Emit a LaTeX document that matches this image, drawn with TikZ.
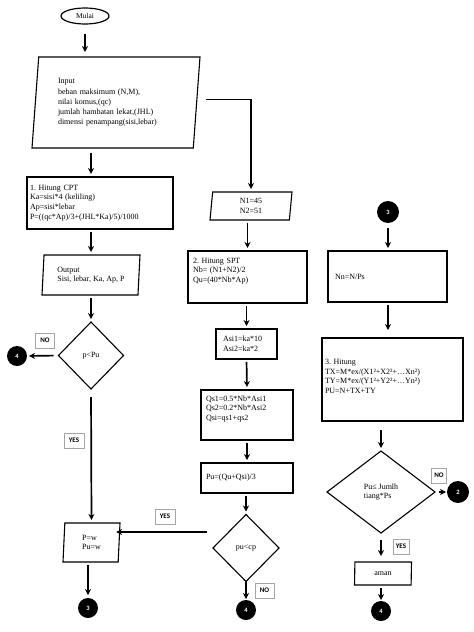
\documentclass[tikz,border=0pt]{standalone}
\usepackage{fontspec}
\setmainfont{Liberation Serif}
\newfontfamily\fclabelfont{Carlito}
\usepackage{tikz}
\usetikzlibrary{arrows.meta,shapes.geometric,positioning,calc}
\frenchspacing
\newcommand{\fcfont}{\fontsize{8}{9.6}\selectfont}
\newcommand{\fclift}[1]{\rule[-#1]{0pt}{0pt}}
\tikzset{
  fcterm/.style={
    ellipse, draw=black, fill=white, line width=1.2pt,
    minimum width=48pt, minimum height=16pt, inner sep=0pt,
    font=\fontsize{7.5}{9}\selectfont
  },
  fcio/.style={
    trapezium, trapezium left angle=82, trapezium right angle=98,
    trapezium stretches body, draw=black, fill=white, line width=1.1pt,
    inner sep=0pt, outer sep=0pt, align=left, font=\fcfont
  },
  fcproc/.style={
    rectangle, draw=black, fill=white, line width=1.1pt,
    inner xsep=5pt, inner ysep=0pt, outer sep=0pt, align=left, font=\fcfont
  },
  fcdec/.style={
    diamond, draw=black, fill=white, line width=1.1pt,
    inner sep=0pt, outer sep=0pt, align=left, font=\fcfont
  },
  fcconn/.style={
    circle, fill=black, minimum size=20pt, inner sep=0pt, outer sep=0pt,
    text=white, font=\fclabelfont\bfseries\fontsize{6.5}{7}\selectfont
  },
  fcedge/.style={-{Stealth[length=6pt,width=6pt]},line width=1.7pt,shorten >=3pt,shorten <=3pt},
  fclabel/.style={
    draw=gray!70, fill=white, line width=0.6pt, minimum height=15pt,
    inner xsep=5pt, inner ysep=1pt, font=\fclabelfont\bfseries\fontsize{7}{8}\selectfont
  }
}

\begin{document}
\begin{tikzpicture}[x=1pt,y=-1pt]
\useasboundingbox (0,0) rectangle (474,632);
% left column
\node[fcterm] (mulai) at (85,16) {Mulai};
\node[fcio,minimum width=168pt,minimum height=91pt,text width=116pt,font=\fontsize{8}{10.2}\selectfont] (inp) at (116,102.5)
  {Input\\beban maksimum (N,M),\\nilai komus,(qc)\\jumlah hambatan lekat,(JHL)\\dimensi penampang(sisi,lebar)};
\node[fcproc,minimum width=146pt,minimum height=52pt,text width=140pt,inner xsep=3pt] (cpt) at (100,203)
  {1. Hitung CPT\\Ka=sisi*4 (keliling)\\Ap=sisi*lebar\\P=((qc*Ap)/3+(JHL*Ka)/5)/1000};
\node[fcio,trapezium left angle=83,trapezium right angle=97,minimum width=98pt,minimum height=40pt] (outp) at (91,275)
  {Output\\Sisi, lebar, Ka, Ap, P};
\node[fcdec,minimum width=65pt,minimum height=67pt] (dia1) at (91,355.5) {p<Pu};
\node[fcconn] (c4a) at (17,356) {4};
\node[fcio,trapezium left angle=83,trapezium right angle=97,minimum width=57pt,minimum height=39pt] (pw) at (91.5,542.5)
  {P=w\\Pu=w};
\node[fcconn] (c3a) at (88,608) {3};

% middle column
\node[fcio,trapezium left angle=80,trapezium right angle=100,minimum width=82pt,minimum height=28pt] (n12) at (251,206)
  {N1=45\\N2=51};
\node[fcproc,minimum width=119pt,minimum height=52pt,text width=109pt] (spt) at (247.5,277)
  {2. Hitung SPT\\Nb= (N1+N2)/2\\Qu=(40*Nb*Ap)\fclift{14pt}};
\node[fcproc,minimum width=61pt,minimum height=30pt,text width=47pt,inner xsep=7pt] (asi) at (246.5,344)
  {Asi1=ka*10\\Asi2=ka*2};
\node[fcproc,minimum width=92pt,minimum height=50pt,text width=82pt] (qs) at (247,415)
  {Qs1=0.5*Nb*Asi1\\Qs2=0.2*Nb*Asi2\\Qsi=qs1+qs2\fclift{14pt}};
\node[fcproc,minimum width=92pt,minimum height=30pt,text width=82pt] (pub) at (247,478) {Pu=(Qu+Qsi)/3};
\node[fcdec,minimum width=66pt,minimum height=67pt] (pucp) at (246,548) {pu<cp};
\node[fcconn] (c4b) at (246,610) {4};

% right column
\node[fcconn,minimum size=22pt] (c3b) at (388,212) {3};
\node[fcproc,minimum width=119pt,minimum height=51pt,text width=105pt,inner xsep=7pt] (nn) at (387.5,276.5) {Nn=N/Ps};
\node[fcproc,minimum width=141pt,minimum height=83pt,text width=135pt,inner xsep=3pt] (h3) at (392.5,379.5)
  {3. Hitung\\TX=M*ex/(X1²+X2²+…Xn²)\\TY=M*ex/(Y1²+Y2²+…Yn²)\\PU=N+TX+TY\fclift{6pt}};
\node[fcdec,minimum width=108pt,minimum height=82pt] (dia3) at (381,492) {Pu≤ Jumlh\\tiang*Ps};
\node[fcconn,minimum size=22pt] (c2) at (458,492) {2};
\node[fcio,trapezium left angle=84,trapezium right angle=96,minimum width=57pt,minimum height=23pt] (aman) at (383,573.5) {aman};
\node[fcconn] (c4c) at (381,611) {4};

% labels
\node[fclabel] (no1) at (45,340.5) {NO};
\node[fclabel] (yes1) at (74,440.5) {YES};
\node[fclabel] (yes2) at (165,516.5) {YES};
\node[fclabel] (no2) at (264.5,590.5) {NO};
\node[fclabel,inner xsep=3pt] (no3) at (439,475.5) {NO};
\node[fclabel,inner xsep=3pt] (yes3) at (401,546.5) {YES};

% connectors
\draw[fcedge,shorten <=9pt,shorten >=5pt] (mulai.south) -- (mulai.south |- inp.north);
\draw[fcedge,shorten <=9pt] ([yshift=3pt]inp.east) -| (n12.north);
\draw[fcedge,shorten <=5pt] (inp.south -| outp.north) -- (cpt.north -| outp.north);
\draw[fcedge] (cpt.south -| outp.north) -- (outp.north);
\draw[fcedge] (outp.south) -- (dia1.north);
\draw[fcedge,shorten <=5pt,shorten >=2pt] (dia1.west) -- (c4a.east);
\draw[fcedge,shorten <=8pt] (dia1.south) -- (pw.north);
\draw[fcedge] (pw.south -| c3a.north) -- (c3a.north);
\draw[fcedge] (n12.south -| spt.north) -- (spt.north);
\draw[fcedge] (spt.south -| asi.north) -- (asi.north);
\draw[fcedge] (asi.south) -- (qs.north);
\draw[fcedge] (qs.south) -- (pub.north);
\draw[fcedge] (pub.south -| pucp.north) -- (pucp.north);
\draw[fcedge,shorten <=0pt,shorten >=1pt] (pucp.south) -- (c4b.north);
\draw[fcedge,shorten <=0pt] ([xshift=-6pt,yshift=16pt]pucp.west) -- ([xshift=-6pt,yshift=16pt]pucp.west -| pw.east);
\draw[fcedge,shorten <=5pt] (c3b.south) -- (c3b.south |- nn.north);
\draw[fcedge,shorten >=8pt] (nn.south -| c3b.south) -- (h3.north -| c3b.south);
\draw[fcedge,shorten <=9pt] (h3.south -| dia3.north) -- (dia3.north);
\draw[fcedge,shorten <=4pt,shorten >=1pt] (dia3.east) -- (c2.west);
\draw[fcedge,shorten <=7pt,shorten >=6pt] (dia3.south) -- (aman.north -| dia3.south);
\draw[fcedge,shorten >=1pt] (aman.south -| c4c.north) -- (c4c.north);
\end{tikzpicture}
\end{document}
